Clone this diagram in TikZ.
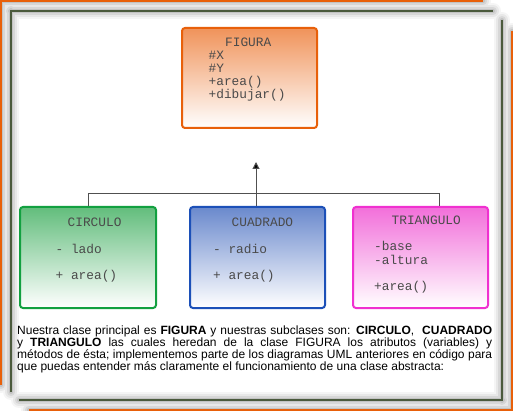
\documentclass[tikz,border=0pt]{standalone}
\usepackage{fontspec}
\setmainfont{Liberation Sans}
\newfontfamily\umlfont{Liberation Mono}
\usetikzlibrary{arrows.meta}
\definecolor{frameor}{HTML}{E8600A}
\definecolor{framegr}{HTML}{4B5A3C}
\definecolor{figbd}{HTML}{E8600A}
\definecolor{figtop}{HTML}{F0935A}
\definecolor{cirbd}{HTML}{12A040}
\definecolor{cirtop}{HTML}{62BD7C}
\definecolor{cuabd}{HTML}{1C50B8}
\definecolor{cuatop}{HTML}{6A89CD}
\definecolor{tribd}{HTML}{F030D0}
\definecolor{tritop}{HTML}{F26FDA}
\definecolor{umltext}{HTML}{4A4A4A}
\definecolor{conn}{HTML}{505050}
\begin{document}
\begin{tikzpicture}[x=1pt,y=-1pt,
  umlbox/.style={rectangle, rounded corners=3pt, line width=2pt, bottom color=white, inner sep=0pt},
  umltxt/.style={anchor=base west, inner sep=0pt, text=umltext, font=\umlfont\fontsize{12.8}{13}\selectfont},
  frameline/.style={line width=2pt, line cap=butt}
]
\useasboundingbox (0,0) rectangle (513,411);
\fill[white] (0,0) rectangle (513,411);
% soft shadows of frame lines
\foreach \w/\o in {16/0.04,12/0.05,8/0.07,4/0.09}{
  \draw[line width=\w pt, draw=black, opacity=\o, line cap=round]
    (0,1)--(483,1) (1,0)--(1,385) (511.5,31)--(511.5,411) (29,409.5)--(513,409.5)
    (10,11)--(493,11) (11,10)--(11,392) (502,20)--(502,401) (19,400)--(503,400);
}
% frame lines
\draw[frameline, frameor] (0,1)--(483,1) (1,0)--(1,385) (511.5,31)--(511.5,411) (29,409.5)--(513,409.5);
\draw[frameline, framegr] (10,11)--(493,11) (11,10)--(11,392) (502,20)--(502,401) (19,400)--(503,400);

% class boxes
\node[umlbox, draw=figbd, top color=figtop, minimum width=135pt, minimum height=100pt] (fig) at (249.5,78) {};
\node[umlbox, draw=cirbd, top color=cirtop, minimum width=136pt, minimum height=101pt] (cir) at (88,257.5) {};
\node[umlbox, draw=cuabd, top color=cuatop, minimum width=135pt, minimum height=101pt] (cua) at (257.5,257.5) {};
\node[umlbox, draw=tribd, top color=tritop, minimum width=135pt, minimum height=101pt] (tri) at (420.5,257.5) {};

% texts
\node[umltxt] (figname) at (225,47) {FIGURA};
\node[umltxt] (figx) at (208.5,60) {\#X};
\node[umltxt] (figy) at (208.5,73) {\#Y};
\node[umltxt] (figarea) at (208.5,86) {+area()};
\node[umltxt] (figdib) at (208.5,99) {+dibujar()};

\node[umltxt] (cirname) at (67.5,227) {CIRCULO};
\node[umltxt] (cirlado) at (55.5,253.5) {- lado};
\node[umltxt] (cirarea) at (55.5,279.5) {+ area()};

\node[umltxt] (cuaname) at (231.5,227) {CUADRADO};
\node[umltxt] (cuaradio) at (213,253.5) {- radio};
\node[umltxt] (cuaarea) at (213,279.5) {+ area()};

\node[umltxt] (triname) at (391.5,225) {TRIANGULO};
\node[umltxt] (tribase) at (374,251) {-base};
\node[umltxt] (trialt) at (374,264) {-altura};
\node[umltxt] (triarea) at (374,290) {+area()};

% connectors
\coordinate (hl) at (88,193.5);
\coordinate (hm) at (256,193.5);
\coordinate (hr) at (439,193.5);
\coordinate (tip) at (256,162);
\draw[conn, line width=1pt] (hl) -- (hr);
\draw[conn, line width=1pt] (hl) -- (hl |- cir.north);
\draw[conn, line width=1pt] (hm) -- (hm |- cua.north);
\draw[conn, line width=1pt] (hr) -- (hr |- tri.north);
\draw[conn, line width=1pt, -{Triangle[length=7pt,width=7pt,fill=black]}] (hm) -- (tip);

% description
\node[anchor=base west, inner sep=0pt, text width=475pt, align=justify,
      font=\fontsize{12}{10}\selectfont] (txt) at (17,334)
 {Nuestra clase principal es \textbf{FIGURA} y nuestras subclases son: \textbf{CIRCULO},\ \ \textbf{CUADRADO}\linebreak
  y \textbf{TRIANGULO} las cuales heredan de la clase FIGURA los atributos (variables) y\linebreak
  métodos de ésta; implementemos parte de los diagramas UML anteriores en código para\linebreak
  que puedas entender más claramente el funcionamiento de una clase abstracta:};
\end{tikzpicture}
\end{document}
